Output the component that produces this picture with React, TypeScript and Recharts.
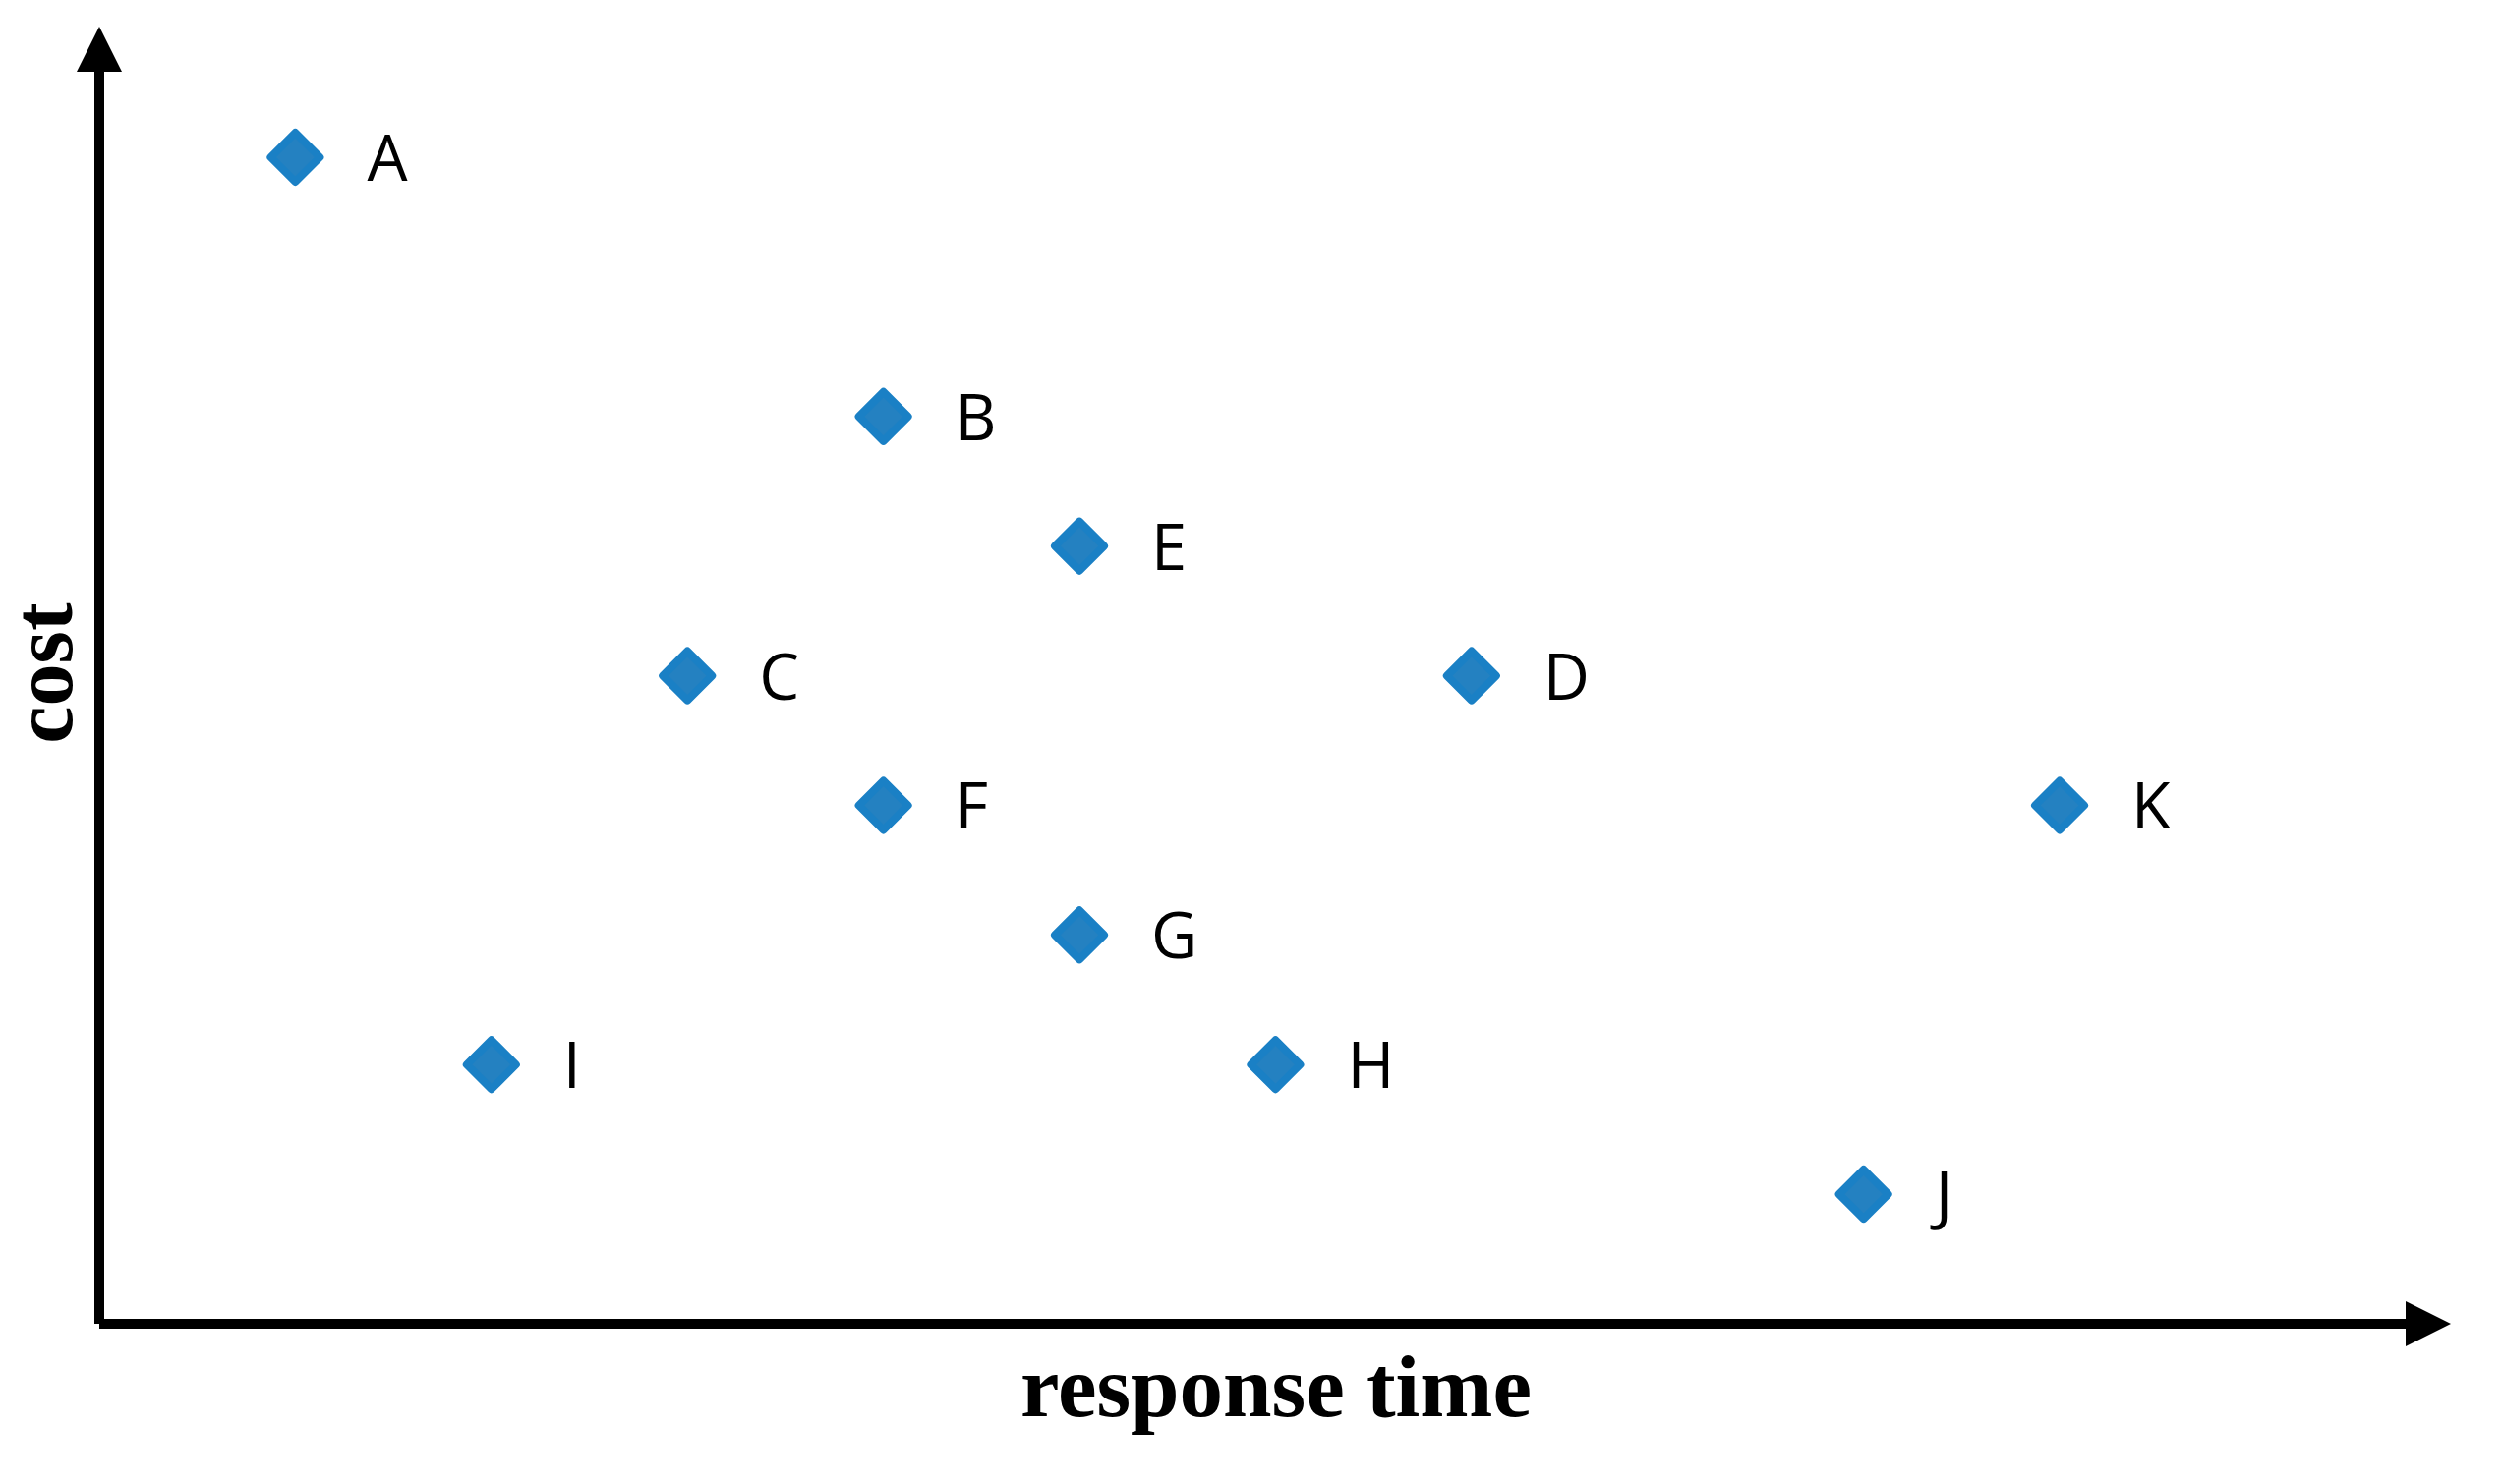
import React from 'react';
import { ScatterChart, Scatter, XAxis, YAxis, LabelList, Label } from 'recharts';

const names = ['A', 'B', 'C', 'D', 'E', 'F', 'G', 'H', 'I', 'J', 'K'];
const responseTime = [1, 4, 3, 7, 5, 4, 5, 6, 2, 9, 10];
const cost = [9, 7, 5, 5, 6, 4, 3, 2, 2, 1, 4];

const points = names.map((name, i) => ({ name, x: responseTime[i], y: cost[i] }));

const Diamond = (props: any) => {
  const { cx, cy } = props;
  const r = 25;
  return (
    <polygon
      points={`${cx},${cy - r} ${cx + r},${cy} ${cx},${cy + r} ${cx - r},${cy}`}
      fill="#2481C1"
      stroke="#1A80C5"
      strokeWidth={8}
      strokeLinejoin="round"
    />
  );
};

const PointLabel = (props: any) => {
  const vb = props.viewBox ?? props;
  const cx = vb.x + (vb.width ?? 0) / 2;
  const cy = vb.y + (vb.height ?? 0) / 2;
  return (
    <text x={cx + 73} y={cy + 24} fontSize={65} fontFamily="'Open Sans', sans-serif" fill="#000">
      {props.value}
    </text>
  );
};

const XTitle = (props: any) => {
  const vb = props.viewBox;
  return (
    <text
      x={vb.x + vb.width / 2 + 24}
      y={vb.y + 94}
      textAnchor="middle"
      fontSize={89}
      fontWeight="bold"
      fontFamily="'Liberation Serif', 'Times New Roman', serif"
      fill="#000"
    >
      response time
    </text>
  );
};

const YTitle = (props: any) => {
  const vb = props.viewBox;
  const x = 73;
  const y = vb.y + vb.height / 2 - 25;
  return (
    <text
      x={x}
      y={y}
      transform={`rotate(-90, ${x}, ${y})`}
      textAnchor="middle"
      fontSize={86}
      fontWeight="bold"
      fontFamily="'Liberation Serif', 'Times New Roman', serif"
      fill="#000"
    >
      cost
    </text>
  );
};

export default function App() {
  return (
    <div style={{ position: 'absolute', left: 0, top: 0, background: '#fff' }}>
      <svg width={0} height={0} style={{ position: 'absolute' }}>
        <defs>
          <marker
            id="axisArrow"
            viewBox="0 0 46 46"
            refX={0}
            refY={23}
            markerWidth={46}
            markerHeight={46}
            markerUnits="userSpaceOnUse"
            orient="auto-start-reverse"
          >
            <path d="M0,0 L46,23 L0,46 Z" fill="#000" />
          </marker>
        </defs>
      </svg>
      <ScatterChart width={2544} height={1510} margin={{ top: 73, right: 97, bottom: 0, left: 0 }}>
        <XAxis
          type="number"
          dataKey="x"
          domain={[0, 11.765]}
          allowDataOverflow
          height={163}
          tick={false}
          tickLine={false}
          axisLine={{ stroke: '#000', strokeWidth: 10, markerEnd: 'url(#axisArrow)' }}
        >
          <Label content={XTitle} />
        </XAxis>
        <YAxis
          type="number"
          dataKey="y"
          domain={[0, 9.66]}
          allowDataOverflow
          width={101}
          tick={false}
          tickLine={false}
          axisLine={{ stroke: '#000', strokeWidth: 10, markerStart: 'url(#axisArrow)' }}
        >
          <Label content={YTitle} />
        </YAxis>
        <Scatter data={points} shape={Diamond} isAnimationActive={false}>
          <LabelList dataKey="name" content={PointLabel} />
        </Scatter>
      </ScatterChart>
    </div>
  );
}
